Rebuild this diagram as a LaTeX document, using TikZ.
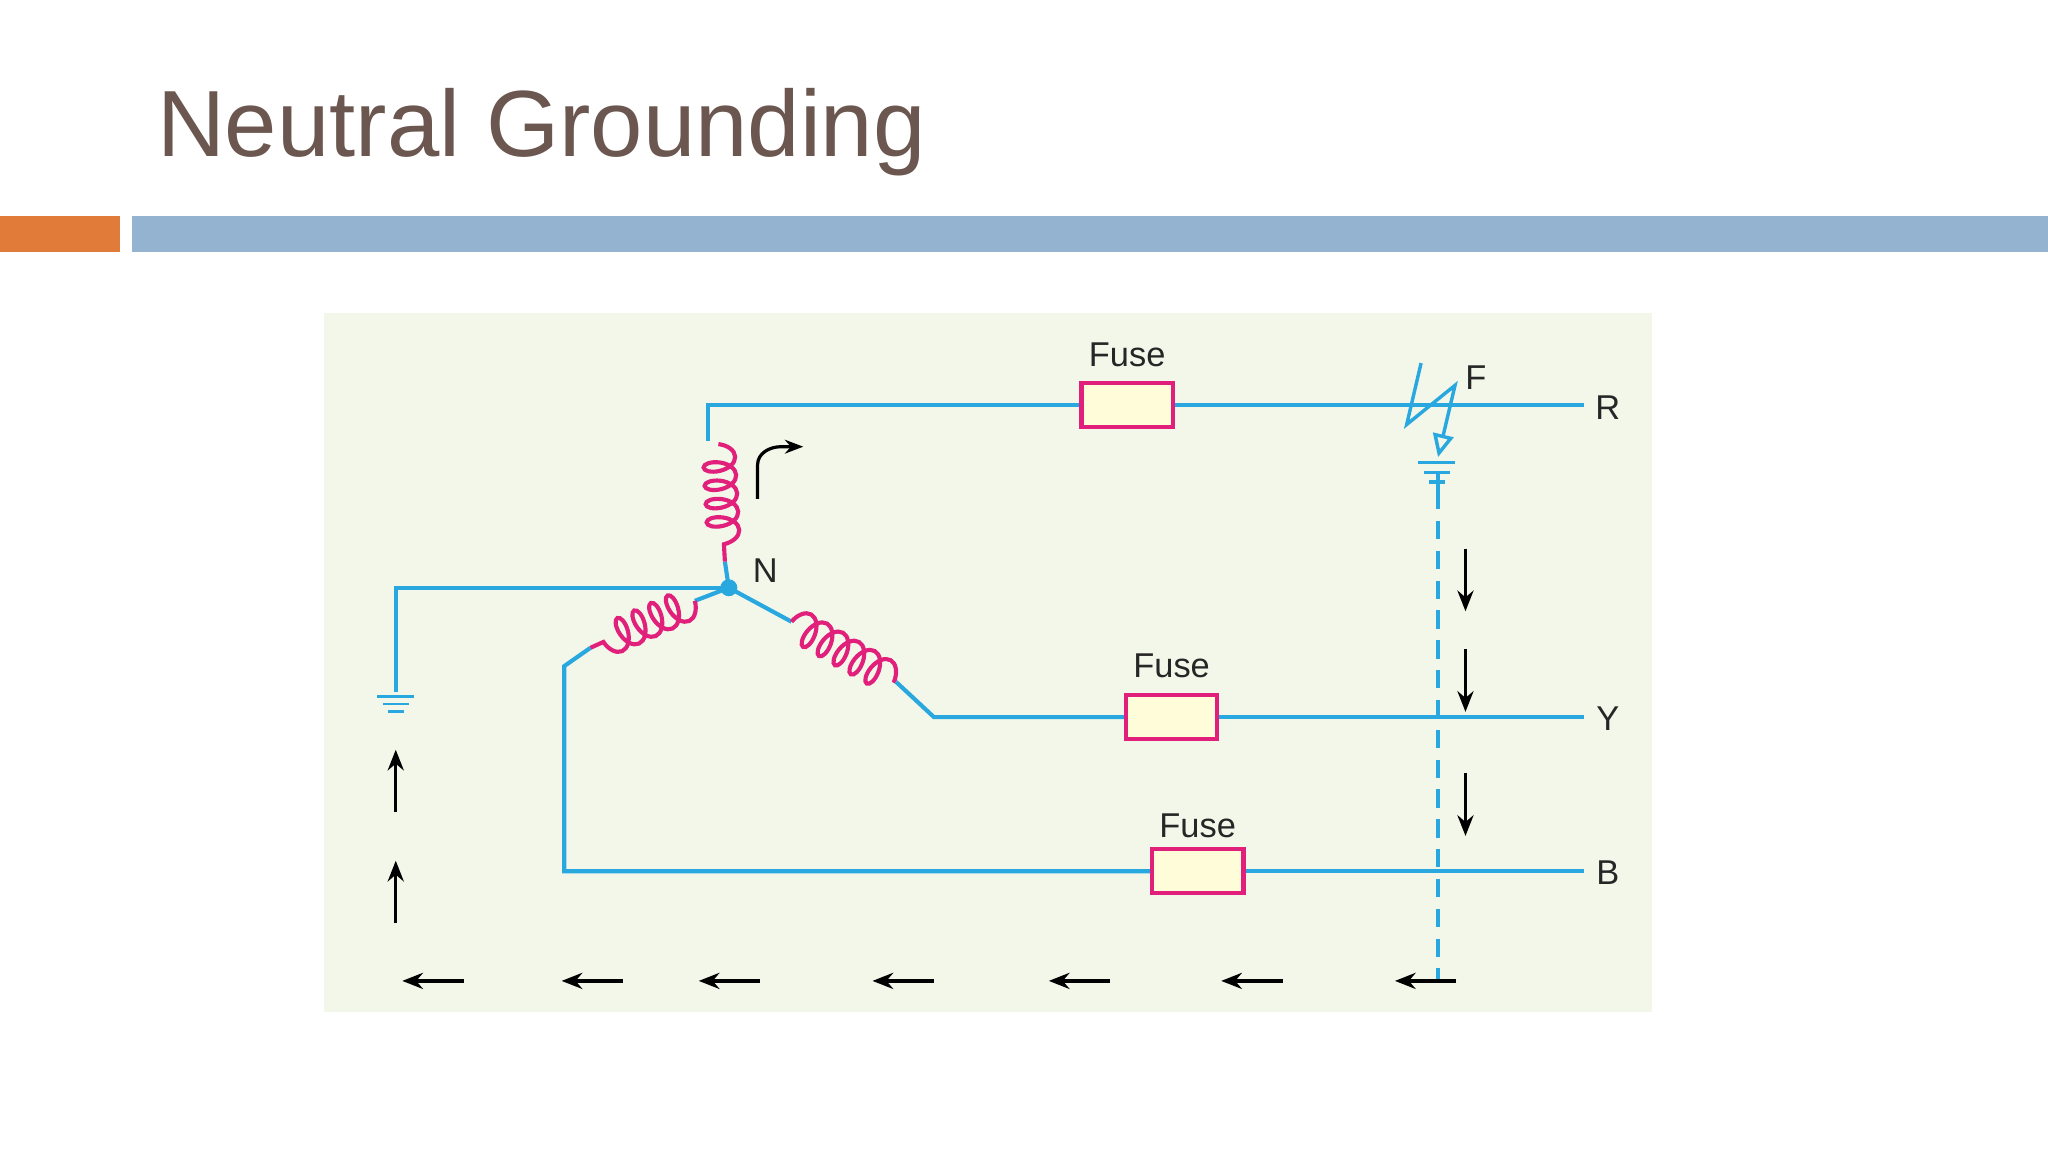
\documentclass[tikz,border=0pt]{standalone}
\usepackage{fontspec}
\setmainfont{Liberation Sans}
\usetikzlibrary{decorations.pathmorphing,arrows.meta}
\definecolor{wire}{HTML}{29A8DF}
\definecolor{coilc}{HTML}{E0207A}
\definecolor{panel}{HTML}{F3F7EA}
\definecolor{titlec}{HTML}{6B5750}
\definecolor{orangebar}{HTML}{E07B39}
\definecolor{bluebar}{HTML}{94B3D1}
\tikzset{
  wireline/.style={draw=wire,line width=1.8pt},
  coilline/.style={draw=coilc,line width=1.8pt,decorate,decoration={coil,aspect=0.55,amplitude=7pt,segment length=8pt}},
  fusebox/.style={draw=coilc,line width=1.8pt,fill=white!85!yellow,minimum width=1.4cm,minimum height=0.68cm,inner sep=0},
  lbl/.style={font=\fontsize{15}{17}\selectfont,text=black!85},
  flow/.style={-{Stealth[length=9pt,width=7pt]},line width=1.5pt,black},
}
\begin{document}
\begin{tikzpicture}[x=0.02cm,y=-0.02cm]
\useasboundingbox (0,0) rectangle (1568,882);
\fill[white] (0,0) rectangle (1568,882);
\node[anchor=base west,text=titlec,font=\fontsize{41}{48}\selectfont] (title) at (114,120) {Neutral Grounding};
\fill[orangebar] (0,165) rectangle (92,193);
\fill[bluebar] (101,165) rectangle (1568,193);
\fill[panel] (248,240) rectangle (1265,775);
% fuses
\node[fusebox] (fr) at (863,310) {};
\node[fusebox] (fy) at (897,549) {};
\node[fusebox] (fb) at (917,667) {};
\node[lbl] (lfr) at (863,272) {Fuse};
\node[lbl] (lfy) at (897,510) {Fuse};
\node[lbl] (lfb) at (917,632) {Fuse};
\node[lbl] (lR) at (1231,312) {R};
\node[lbl] (lY) at (1231,550) {Y};
\node[lbl] (lB) at (1231,668) {B};
\node[lbl] (lN) at (586,437) {N};
\node[lbl] (lF) at (1130,289) {F};
% coordinates
\coordinate (N) at (558,450);
\coordinate (rc) at (542,310);
\coordinate (rv) at (542,338);
\coordinate (ct) at (550,340);
\coordinate (cb) at (555,430);
\coordinate (Rend) at (1213,310);
\coordinate (Yend) at (1213,549);
\coordinate (Bend) at (1213,667);
\coordinate (g) at (303,450);
\coordinate (gb) at (303,530);
\coordinate (l1) at (532,460);
\coordinate (l2) at (452,496);
\coordinate (lc) at (432,510);
\coordinate (lb) at (432,667);
\coordinate (r1) at (606,476);
\coordinate (r2) at (686,522);
\coordinate (rc2) at (715,549);
% wires
\draw[wireline] (rv) -- (rc) -- (fr.west);
\draw[wireline] (fr.east) -- (Rend);
\draw[wireline] (cb) -- (N);
\draw[coilline] (ct) -- (cb);
\draw[wireline] (N) -- (g) -- (gb);
\draw[wireline] (N) -- (l1);
\draw[coilline] (l1) -- (l2);
\draw[wireline] (l2) -- (lc) -- (lb) -- (fb.west);
\draw[wireline] (fb.east) -- (Bend);
\draw[wireline] (N) -- (r1);
\draw[coilline] (r1) -- (r2);
\draw[wireline] (r2) -- (rc2) -- (fy.west);
\draw[wireline] (fy.east) -- (Yend);
\fill[wire] (N) circle (6.5);
% ground at left
\draw[wireline,line width=1.3pt] (289,533) -- (317,533) (293,539) -- (313,539) (297,545) -- (309,545);
% fault
\coordinate (z1) at (1088,278);
\coordinate (z2) at (1077,325);
\coordinate (z3) at (1114,295);
\coordinate (z4) at (1101,350);
\draw[wire,line width=1.5pt,-{Triangle[open,length=10pt,width=9pt]}] (z1) -- (z2) -- (z3) -- (z4);
\draw[wireline,line width=1.4pt] (1086,354) -- (1114,354) (1090,362) -- (1110,362) (1094,369) -- (1106,369) (1101,362) -- (1101,376);
\coordinate (db) at (1101,752);
\draw[wireline,line width=1.4pt,dashed,dash pattern=on 8pt off 5pt] (1101,376) -- (db);
% current arrows
\foreach \y in {420,497,592} \draw[flow] (1122,\y) -- (1122,\y+48);
\foreach \y in {622,707} \draw[flow] (303,\y) -- (303,\y-48);
\foreach \x in {1115,982,850,715,582,477,355} \draw[flow] (\x,751) -- (\x-47,751);
\draw[-{Stealth[length=8pt,width=6pt]},line width=1.4pt,black] (580,382) -- (580,356) to[out=90,in=180] (598,342) -- (615,342);
\end{tikzpicture}
\end{document}
